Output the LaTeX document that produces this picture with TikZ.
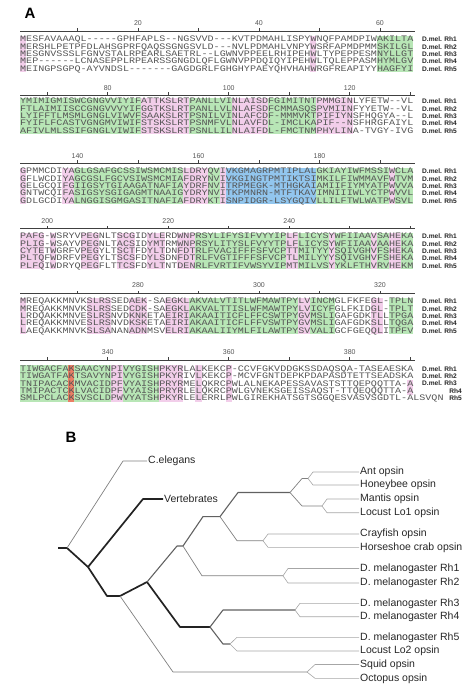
\documentclass[tikz,border=0pt]{standalone}
\usepackage{fontspec}
\setmainfont{Liberation Sans}
\newfontfamily\seqfont{Liberation Mono}[FakeStretch=1.2]
\usepackage{tikz}
\usetikzlibrary{positioning}
\definecolor{hlgreen}{RGB}{184,230,182}
\definecolor{hlpink}{RGB}{242,206,234}
\definecolor{hlblue}{RGB}{146,198,238}
\definecolor{hlred}{RGB}{234,126,100}
\definecolor{seqgray}{RGB}{85,85,85}
\definecolor{treedark}{RGB}{35,35,35}
\tikzset{
  seqrow/.style={anchor=base west, inner sep=0pt,
    font=\fontsize{8.4}{8.4}\seqfont, text=seqgray},
  seqname/.style={anchor=west, inner sep=0pt, font=\fontsize{6.6}{6.6}\selectfont\bfseries, text=black!85},
  rulernum/.style={inner sep=0pt, font=\fontsize{7}{7}\selectfont, text=seqgray},
  rulerline/.style={line width=0.9pt, color=black!75},
  rulertick/.style={line width=0.6pt, color=black!75},
  panel/.style={inner sep=0pt, font=\fontsize{15}{15}\selectfont\bfseries},
  trunk/.style={line width=1.7pt, color=treedark, line join=round},
  branch/.style={line width=1.1pt, color=black!62, line join=round},
  twig/.style={line width=0.7pt, color=black!50, line join=round},
  leafline/.style={line width=0.6pt, color=black!35, line join=round},
  leaf/.style={anchor=west, inner sep=1pt, font=\fontsize{10.5}{10.5}\selectfont, text=black!85}
}
% highlight: row1 y, rows from/to, cols from/to, colour
\newcommand{\hlbox}[6]{%
  \fill[#6] ({20+(#4-1)*6.05},{#1+(#2-1)*7.3-3.65}) rectangle ({20+#5*6.05},{#1+(#3-1)*7.3+3.65});}

\begin{document}
\begin{tikzpicture}[x=1pt, y=-1pt]
  \useasboundingbox (0,0) rectangle (474,694);

  \node[panel] (panelA) at (30,13) {A};
  \node[panel] (panelB) at (71,437) {B};

  % colour blocks
  \foreach \ra/\rb/\ca/\cb/\cl in {1/5/1/1/hlpink, 1/5/49/49/hlpink, 1/5/60/65/hlgreen}
    {\hlbox{39.5}{\ra}{\rb}{\ca}{\cb}{\cl}}
  \foreach \ra/\rb/\ca/\cb/\cl in {1/5/1/20/hlgreen, 1/5/21/28/hlpink, 1/5/29/35/hlgreen,
    1/5/36/41/hlpink, 1/5/42/49/hlgreen, 1/5/50/55/hlpink}
    {\hlbox{101.5}{\ra}{\rb}{\ca}{\cb}{\cl}}
  \foreach \ra/\rb/\ca/\cb/\cl in {1/5/1/1/hlpink, 1/5/8/9/hlpink, 1/5/10/27/hlgreen,
    1/5/28/31/hlpink, 1/5/32/33/hlgreen, 1/5/34/34/hlpink, 1/5/35/49/hlblue,
    1/5/50/65/hlgreen, 1/5/62/62/hlpink}
    {\hlbox{171.5}{\ra}{\rb}{\ca}{\cb}{\cl}}
  \foreach \ra/\rb/\ca/\cb/\cl in {1/5/1/4/hlpink, 1/5/6/6/hlpink, 1/5/11/13/hlpink,
    1/5/17/19/hlpink, 1/5/22/24/hlpink, 1/5/27/29/hlpink, 1/5/30/65/hlgreen,
    1/5/45/46/hlpink, 1/5/52/52/hlpink, 1/5/59/59/hlpink, 1/5/62/63/hlpink}
    {\hlbox{236.5}{\ra}{\rb}{\ca}{\cb}{\cl}}
  \foreach \ra/\rb/\ca/\cb/\cl in {1/5/1/1/hlpink, 1/5/12/15/hlpink, 1/5/19/21/hlpink,
    1/5/25/28/hlpink, 1/5/29/52/hlgreen, 1/5/47/48/hlpink, 1/5/59/60/hlpink,
    1/5/62/65/hlgreen}
    {\hlbox{301.5}{\ra}{\rb}{\ca}{\cb}{\cl}}
  \foreach \ra/\rb/\ca/\cb/\cl in {1/5/1/23/hlgreen, 1/5/9/9/hlred, 1/5/16/17/hlpink,
    1/5/24/27/hlpink, 1/5/30/30/hlpink, 1/5/35/35/hlpink, 3/4/65/65/hlpink}
    {\hlbox{369}{\ra}{\rb}{\ca}{\cb}{\cl}}

  % rulers
  \foreach \b/\ry/\ticks in {1/31/{10,20,30,40,50,60}, 2/95/{5,15,25,35,45,55,65},
    3/163/{10,20,30,40,50,60}, 4/228.5/{5,15,25,35,45,55,65},
    5/293.5/{10,20,30,40,50,60}, 6/360/{5,15,25,35,45,55,65}}
  {
    \draw[rulerline] (20,\ry) coordinate (rl\b) -- (415,\ry) coordinate (rr\b);
    \foreach \c in \ticks \draw[rulertick] ({20+(\c-0.5)*6.05},\ry) -- ++(0,-3);
  }
  \foreach \ny/\c/\t in {23/20/20, 23/40/40, 23/60/60, 88/15/80, 88/35/100, 88/55/120,
    156/10/140, 156/30/160, 156/50/180, 221/5/200, 221/25/220, 221/45/240,
    285.5/20/280, 285.5/40/300, 285.5/60/320, 352.5/15/340, 352.5/35/360, 352.5/55/380}
    \node[rulernum] (num\t) at ({20+(\c-0.5)*6.05},\ny) {\t};

  % sequences
  \foreach \k/\s in {0/MESFAVAAAQL-----GPHFAPLS--NGSVVD---KVTPDMAHLISPYWNQFPAMDPIWAKILTA,
    1/MERSHLPETPFDLAHSGPRFQAQSSGNGSVLD---NVLPDMAHLVNPYWSRFAPMDPMMSKILGL,
    2/MESGNVSSSLFGNVSTALRPEARLSAETRL--LGWNVPPEELRHIPEHWLTYPEPPESMNYLLGT,
    3/MEP------LCNASEPPLRPEARSSGNGDLQFLGWNVPPDQIQYIPEHWLTQLEPPASMHYMLGV,
    4/MEINGPSGPQ-AYVNDSL-------GAGDGRLFGHGHYPAEYQHVHAHWRGFREAPIYYHAGFYI}
    \node[seqrow] (s1r\k) at (20,{39.5+\k*7.3+2.4}) {\s};
  \foreach \k/\s in {0/YMIMIGMISWCGNGVVIYIFATTKSLRTPANLLVINLAISDFGIMITNTPMMGINLYFETW--VL,
    1/FTLAIMIISCCGNGVVVYIFGGTKSLRTPANLLVLNLAFSDFCMMASQSPVMIINFYYETW--VL,
    2/LYIFFTLMSMLGNGLVIWVFSAAKSLRTPSNILVINLAFCDF-MMMVKTPIFIYNSFHQGYA--L,
    3/FYIFLFCASTVGNGMVIWIFSTSKSLRTPSNMFVLNLAVFDL-IMCLKAPIF--NSFHRGFAIYL,
    4/AFIVLMLSSIFGNGLVIWIFSTSKSLRTPSNLLILNLAIFDL-FMCTNMPHYLINA-TVGY-IVG}
    \node[seqrow] (s2r\k) at (20,{101.5+\k*7.3+2.4}) {\s};
  \foreach \k/\s in {0/GPMMCDIYAGLGSAFGCSSIWSMCMISLDRYQVIVKGMAGRPMTIPLALGKIAYIWFMSSIWCLA,
    1/GFLWCDIYAGCGSLFGCVSIWSMCMIAFDRYNVIVKGINGTPMTIKTSIMKILFIWMMAVFWTVM,
    2/GELGCQIFGIIGSYTGIAAGATNAFIAYDRFNVITRPMEGK-MTHGKAIAMIIFIYMYATPWVVA,
    3/GNTWCQIFASIGSYSGIGAGMTNAAIGYDRYNVITKPMNRN-MTFTKAVIMNIIIWLYCTPWVVL,
    4/GDLGCDIYALNGGISGMGASITNAFIAFDRYKTISNPIDGR-LSYGQIVLLILFTWLWATPWSVL}
    \node[seqrow] (s3r\k) at (20,{171.5+\k*7.3+2.4}) {\s};
  \foreach \k/\s in {0/PAFG-WSRYVPEGNLTSCGIDYLERDWNPRSYLIFYSIFVYYIPLFLICYSYWFIIAAVSAHEKA,
    1/PLIG-WSAYVPEGNLTACSIDYMTRMWNPRSYLITYSLFVYYTPLFLICYSYWFIIAAVAAHEKA,
    2/CYTETWGRFVPEGYLTSCTFDYLTDNFDTRLFVACIFFFSFVCPTTMITYYYSQIVGHVFSHEKA,
    3/PLTQFWDRFVPEGYLTSCSFDYLSDNFDTRLFVGTIFFFSFVCPTLMILYYYSQIVGHVFSHEKA,
    4/PLFQIWDRYQPEGFLTTCSFDYLTNTDENRLFVRTIFVWSYVIPMTMILVSYYKLFTHVRVHEKM}
    \node[seqrow] (s4r\k) at (20,{236.5+\k*7.3+2.4}) {\s};
  \foreach \k/\s in {0/MREQAKKMNVKSLRSSEDAEK-SAEGKLAKVALVTITLWFMAWTPYLVINCMGLFKFEGL-TPLN,
    1/MREQAKKMNVKSLRSSEDCDK-SAEGKLAKVALTTISLWFMAWTPYLVICYFGLFKIDGL-TPLT,
    2/LRDQAKKMNVESLRSNVDKNKETAEIRIAKAAITICFLFFCSWTPYGVMSLIGAFGDKTLLTPGA,
    3/LREQAKKMNVESLRSNVDKSKETAEIRIAKAAITICFLFFVSWTPYGVMSLIGAFGDKSLLTQGA,
    4/LAEQAKKMNVKSLSANANADNMSVELRIAKAALIIYMLFILAWTPYSVVALIGCFGEQQLITPFV}
    \node[seqrow] (s5r\k) at (20,{301.5+\k*7.3+2.4}) {\s};
  \foreach \k/\s in {0/TIWGACFAKSAACYNPIVYGISHPKYRLALKEKCP-CCVFGKVDDGKSSDAQSQA-TASEAESKA,
    1/TIWGATFAKTSAVYNPIVYGISHPKYRIVLKEKCP-MCVFGNTDEPKPDAPASDTETTSEADSKA,
    2/TNIPACACKMVACIDPFVYAISHPRYRMELQKRCPWLALNEKAPESSAVASTSTTQEPQQTTA-A,
    3/TMIPACTCKLVACIDPFVYAISHPRYRLELQKRCPWLGVNEKSGEISSAQST-TTQEQQQTTA-A,
    4/SMLPCLACKSVSCLDPWVYATSHPKYRLELERRLPWLGIREKHATSGTSGGQESVASVSGDTL-ALSVQN}
    \node[seqrow] (s6r\k) at (20,{369+\k*7.3+2.4}) {\s};

  % names
  \foreach \b/\by in {1/39.5, 2/101.5, 3/171.5, 4/236.5, 5/301.5}
    \foreach \k/\n in {0/1, 1/2, 2/3, 3/4, 4/5}
      \node[seqname] (b\b n\n) at (422,{\by+\k*7.3}) {D.mel. Rh\n};
  \foreach \k/\n in {0/1, 1/2, 2/3}
    \node[seqname] (b6n\n) at (422,{369+\k*7.3}) {D.mel. Rh\n};
  \node[seqname, anchor=east] (b6n4) at (462,{369+3*7.3}) {Rh4};
  \node[seqname, anchor=east] (b6n5) at (462,{369+4*7.3}) {Rh5};

  % tree nodes
  \coordinate (root0) at (58,548);
  \coordinate (root) at (67,548);
  \coordinate (cel0) at (123,461);
  \coordinate (n1) at (88,567);
  \coordinate (vert0) at (143,499);
  \coordinate (n2a) at (107,596);
  \coordinate (n2) at (120,596);
  \coordinate (n3) at (147,582);
  \coordinate (n4a) at (177,546);
  \coordinate (n4) at (183,546);
  \coordinate (n5a) at (203,516.6);
  \coordinate (n5) at (220,516.6);
  \coordinate (n6a) at (238,492.5);
  \coordinate (n6) at (290,492.5);
  \coordinate (n7a) at (302,478.5);
  \coordinate (n7) at (308,478.5);
  \coordinate (n8a) at (302,506);
  \coordinate (n8) at (322,506);
  \coordinate (n9a) at (237,540.7);
  \coordinate (n9) at (263,540.7);
  \coordinate (n10a) at (202,575.8);
  \coordinate (n10) at (283,575.8);
  \coordinate (n11a) at (180,627);
  \coordinate (n11) at (210,627);
  \coordinate (n12a) at (223,610);
  \coordinate (n12) at (295,610);
  \coordinate (n13a) at (223,644);
  \coordinate (n13) at (230,644);
  \coordinate (n14a) at (173,672);
  \coordinate (n14) at (307,672);

  \node[leaf] (celegans) at (147,461) {C.elegans};
  \node[leaf] (vertebrates) at (163,499) {Vertebrates};
  \node[leaf] (ant) at (359,472) {Ant opsin};
  \node[leaf] (bee) at (359,485) {Honeybee opsin};
  \node[leaf] (mantis) at (359,499) {Mantis opsin};
  \node[leaf] (lo1) at (359,512.7) {Locust Lo1 opsin};
  \node[leaf] (cray) at (359,534) {Crayfish opsin};
  \node[leaf] (horse) at (359,547.3) {Horseshoe crab opsin};
  \node[leaf] (rh1) at (359,568.5) {D. melanogaster Rh1};
  \node[leaf] (rh2) at (359,583) {D. melanogaster Rh2};
  \node[leaf] (rh3) at (359,603.3) {D. melanogaster Rh3};
  \node[leaf] (rh4) at (359,616.7) {D. melanogaster Rh4};
  \node[leaf] (rh5) at (359,637.3) {D. melanogaster Rh5};
  \node[leaf] (lo2) at (359,651) {Locust Lo2 opsin};
  \node[leaf] (squid) at (359,664.5) {Squid opsin};
  \node[leaf] (octo) at (359,678.3) {Octopus opsin};

  % branches
  \draw[trunk] (root0) -- (root) -- (n1) -- (vert0) -- (vertebrates.west);
  \draw[trunk] (n1) -- (n2a) -- (n2) -- (n3) -- (n11a) -- (n11);
  \draw[twig] (root) -- (cel0) -- (celegans.west);
  \draw[branch] (n3) -- (n4a) -- (n4) -- (n5a) -- (n5) -- (n6a) -- (n6);
  \draw[twig] (n4) -- (n10a) -- (n10);
  \draw[twig] (n5) -- (n9a) -- (n9);
  \draw[twig] (n6) -- (n7a) -- (n7);
  \draw[twig] (n6) -- (n8a) -- (n8);
  \draw[branch] (n11) -- (n12a) -- (n12);
  \draw[branch] (n11) -- (n13a) -- (n13);
  \draw[twig] (n2) -- (n14a) -- (n14);
  \draw[leafline] (n7) -- (313,472) -- (ant.west);
  \draw[leafline] (n7) -- (313,485) -- (bee.west);
  \draw[leafline] (n8) -- (327,499) -- (mantis.west);
  \draw[leafline] (n8) -- (327,512.7) -- (lo1.west);
  \draw[leafline] (n9) -- (268,534) -- (cray.west);
  \draw[leafline] (n9) -- (268,547.3) -- (horse.west);
  \draw[leafline] (n10) -- (288,568.5) -- (rh1.west);
  \draw[leafline] (n10) -- (288,583) -- (rh2.west);
  \draw[leafline] (n12) -- (300,603.3) -- (rh3.west);
  \draw[leafline] (n12) -- (300,616.7) -- (rh4.west);
  \draw[leafline] (n13) -- (237,637.3) -- (rh5.west);
  \draw[leafline] (n13) -- (237,651) -- (lo2.west);
  \draw[leafline] (n14) -- (315,664.5) -- (squid.west);
  \draw[leafline] (n14) -- (315,678.3) -- (octo.west);
\end{tikzpicture}
\end{document}
